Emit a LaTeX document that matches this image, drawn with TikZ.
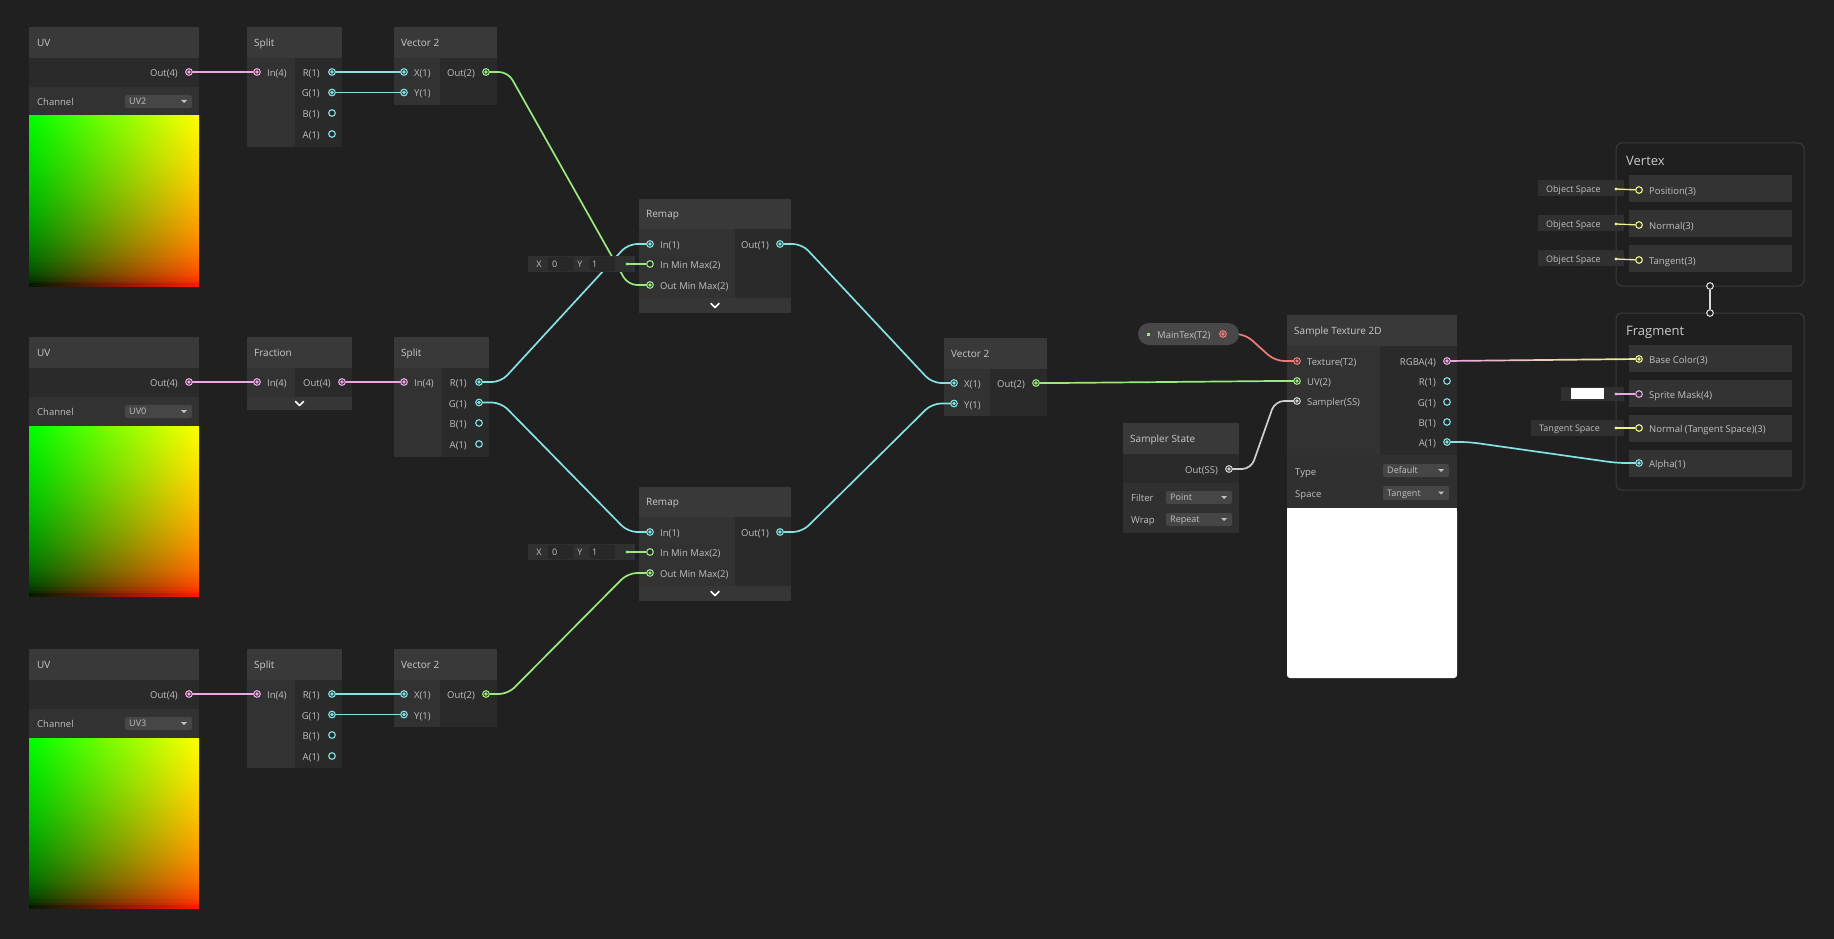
\documentclass[tikz,border=0pt]{standalone}
\usepackage{fontspec}
\setmainfont{Open Sans}
\usetikzlibrary{calc}
\definecolor{bgc}{HTML}{202020}
\definecolor{ttlc}{HTML}{393939}
\definecolor{inc}{HTML}{323232}
\definecolor{outc}{HTML}{2A2A2A}
\definecolor{barc}{HTML}{363636}
\definecolor{ddc}{HTML}{464646}
\definecolor{txtc}{HTML}{C0C0C0}
\definecolor{ttxc}{HTML}{CACACA}
\definecolor{pinkc}{HTML}{EBA6E3}
\definecolor{cyanc}{HTML}{84E1E4}
\definecolor{greenc}{HTML}{9AEA7E}
\definecolor{yellowc}{HTML}{EEF28C}
\definecolor{redc}{HTML}{F07A7A}
\definecolor{greyc}{HTML}{CFCFCF}
\definecolor{fieldc}{HTML}{303030}
\definecolor{fieldin}{HTML}{282828}
\definecolor{pillc}{HTML}{484848}
\definecolor{rowc}{HTML}{333333}
\definecolor{ctxc}{HTML}{1F1F1F}
\definecolor{ctxb}{HTML}{3A3A3A}
\pgfdeclarelayer{bodies}
\pgfdeclarelayer{edges}
\pgfsetlayers{bodies,edges,main}
\tikzset{
  lbl/.style={font=\fontsize{9.5}{11}\selectfont, text=txtc, inner sep=0pt, text height=7pt, text depth=0pt},
  small/.style={font=\fontsize{9}{10}\selectfont, text=txtc, inner sep=0pt, text height=6.6pt, text depth=0pt},
  ttl/.style={font=\fontsize{10}{12}\selectfont, text=ttxc, inner sep=0pt, text height=7.3pt, text depth=0pt, anchor=west},
  bigttl/.style={font=\fontsize{13}{15}\selectfont, text=ttxc, inner sep=0pt, text height=9.4pt, text depth=0pt, anchor=west},
  port/.style={circle, inner sep=0pt, minimum size=6.6pt, line width=1.1pt, fill=outc},
  edge/.style={line width=1.7pt, rounded corners=9pt},
  chev/.style={draw=white, line width=1.6pt, line cap=round, line join=round},
  ddarrow/.style={fill=txtc},
}
\newcommand\sgcport[3]{\node[port,draw=#3] (#1) at (#2) {};\fill[#3] (#1.center) circle (1.8);}
\newcommand\sgoport[3]{\node[port,draw=#3] (#1) at (#2) {};}
\newcommand\sgedge[3]{\draw[edge,#1] (#2.center) -- ++(22,0) -- ($(#3.center)+(-22,0)$) -- (#3.center);}
\newcommand\sgchev[2]{\draw[chev] ({#1-4},{#2-2}) -- (#1,{#2+2}) -- ({#1+4},{#2-2});}
\newcommand\sgdd[6]{% name, x1, y1, x2, y2, text
  \fill[ddc, rounded corners=2pt] (#2,#3) rectangle (#4,#5);
  \node[small, anchor=west] (#1) at ({#2+4},{(#3+#5)/2}) {#6};
  \fill[ddarrow] ({#4-11},{(#3+#5)/2-1.5}) -- ({#4-5},{(#3+#5)/2-1.5}) -- ({#4-8},{(#3+#5)/2+1.5}) -- cycle;}
% UV node: prefix, top, channel
\newcommand\sguv[3]{%
  \begin{pgfonlayer}{bodies}
  \fill[ttlc] (29,#2) rectangle (199,{#2+31});
  \fill[outc] (29,{#2+31}) rectangle (199,{#2+60});
  \fill[inc] (29,{#2+60}) rectangle (199,{#2+89});
  \foreach \k in {0,...,67} {
    \pgfmathsetmacro\gg{(1-(\k+0.5)/68)^0.4545}
    \definecolor{gL}{rgb}{0,\gg,0}
    \definecolor{gM}{rgb}{0.735,\gg,0}
    \definecolor{gR}{rgb}{1,\gg,0}
    \fill[left color=gL, middle color=gM, right color=gR] (29,{#2+89+\k*2.5}) rectangle (199,{#2+89+\k*2.5+2.8});
  }
  \end{pgfonlayer}
  \node[ttl] (#1t) at (37,{#2+15.5}) {UV};
  \node[lbl, anchor=east] (#1ol) at (178,{#2+46}) {Out(4)};
  \node[lbl, anchor=west] (#1cl) at (37,{#2+75}) {Channel};
  \sgdd{#1dd}{125}{#2+68}{192}{#2+81}{#3}
  \sgcport{#1o}{189,{#2+45}}{pinkc}
}
% Split node: prefix, x, top, bottom offset
\newcommand\sgsplit[4]{%
  \begin{pgfonlayer}{bodies}
  \fill[ttlc] (#2,#3) rectangle ({#2+95},{#3+31});
  \fill[inc] (#2,{#3+31}) rectangle ({#2+48},{#3+#4});
  \fill[outc] ({#2+48},{#3+31}) rectangle ({#2+95},{#3+#4});
  \end{pgfonlayer}
  \node[ttl] (#1t) at ({#2+7},{#3+15.5}) {Split};
  \sgcport{#1i}{{#2+10},{#3+45}}{pinkc}
  \node[lbl, anchor=west] (#1il) at ({#2+20},{#3+46}) {In(4)};
  \sgcport{#1r}{{#2+85},{#3+45}}{cyanc}
  \sgcport{#1g}{{#2+85},{#3+65.5}}{cyanc}
  \sgoport{#1b}{{#2+85},{#3+86}}{cyanc}
  \sgoport{#1a}{{#2+85},{#3+107}}{cyanc}
  \node[lbl, anchor=east] (#1rl) at ({#2+73},{#3+46}) {R(1)};
  \node[lbl, anchor=east] (#1gl) at ({#2+73},{#3+66.5}) {G(1)};
  \node[lbl, anchor=east] (#1bl) at ({#2+73},{#3+87}) {B(1)};
  \node[lbl, anchor=east] (#1al) at ({#2+73},{#3+108}) {A(1)};
}
% Vector 2 node: prefix, x, top
\newcommand\sgvec[3]{%
  \begin{pgfonlayer}{bodies}
  \fill[ttlc] (#2,#3) rectangle ({#2+102.5},{#3+31});
  \fill[inc] (#2,{#3+31}) rectangle ({#2+45.5},{#3+78});
  \fill[outc] ({#2+45.5},{#3+31}) rectangle ({#2+102.5},{#3+78});
  \end{pgfonlayer}
  \node[ttl] (#1t) at ({#2+7},{#3+15.5}) {Vector 2};
  \sgcport{#1x}{{#2+10},{#3+45}}{cyanc}
  \sgcport{#1y}{{#2+10},{#3+65.5}}{cyanc}
  \sgcport{#1o}{{#2+92},{#3+45}}{greenc}
  \node[lbl, anchor=west] (#1xl) at ({#2+20},{#3+46}) {X(1)};
  \node[lbl, anchor=west] (#1yl) at ({#2+20},{#3+66.5}) {Y(1)};
  \node[lbl, anchor=east] (#1ol) at ({#2+81},{#3+46}) {Out(2)};
}
% Remap node: prefix, top
\newcommand\sgremap[2]{%
  \begin{pgfonlayer}{bodies}
  \fill[ttlc] (639,#2) rectangle (791,{#2+30});
  \fill[inc] (639,{#2+30}) rectangle (735,{#2+99});
  \fill[outc] (735,{#2+30}) rectangle (791,{#2+99});
  \fill[barc] (639,{#2+99}) rectangle (791,{#2+114});
  \end{pgfonlayer}
  \sgchev{715}{#2+106.5}
  \node[ttl] (#1t) at (646,{#2+15}) {Remap};
  \sgcport{#1in}{650,{#2+45}}{cyanc}
  \sgoport{#1mm}{650,{#2+65}}{greenc}
  \sgcport{#1om}{650,{#2+86}}{greenc}
  \sgcport{#1o}{780,{#2+45}}{cyanc}
  \node[lbl, anchor=west] (#1inl) at (660,{#2+46}) {In(1)};
  \node[lbl, anchor=west] (#1mml) at (660,{#2+66}) {In Min Max(2)};
  \node[lbl, anchor=west] (#1oml) at (660,{#2+87}) {Out Min Max(2)};
  \node[lbl, anchor=east] (#1ol) at (769,{#2+46}) {Out(1)};
  \fill[fieldc] (528,{#2+57}) rectangle (635,{#2+73});
  \fill[fieldin] (548,{#2+58}) rectangle (573,{#2+72});
  \fill[fieldin] (589,{#2+58}) rectangle (615,{#2+72});
  \node[small] (#1fx) at (539,{#2+65.5}) {X};
  \node[small, anchor=west] (#1f0) at (552,{#2+65.5}) {0};
  \node[small] (#1fy) at (580,{#2+65.5}) {Y};
  \node[small, anchor=west] (#1f1) at (592,{#2+65.5}) {1};
  \coordinate (#1d) at (627,{#2+65});
  \fill[greenc] (#1d) circle (1.7);
  \draw[greenc, line width=1.4pt] (#1d) -- (#1mm);
}
\begin{document}
\begin{tikzpicture}[x=1pt,y=-1pt]
\begin{pgfonlayer}{bodies}
\fill[bgc] (0,0) rectangle (1834,939);
\end{pgfonlayer}
\useasboundingbox (0,0) rectangle (1834,939);

% ---------- left column ----------
\sguv{uva}{27}{UV2}
\sguv{uvb}{337}{UV0}
\sguv{uvc}{649}{UV3}

\sgsplit{spa}{247}{27}{120}
\sgsplit{spb}{394}{337}{120}
\sgsplit{spc}{247}{649}{119}

\sgvec{va}{394}{27}
\sgvec{vc}{394}{649}
\sgvec{vm}{944}{338}

% Fraction
\begin{pgfonlayer}{bodies}
\fill[ttlc] (247,337) rectangle (352,368);
\fill[inc] (247,368) rectangle (295,397);
\fill[outc] (295,368) rectangle (352,397);
\fill[barc] (247,397) rectangle (352,410);
\end{pgfonlayer}
\node[ttl] (frt) at (254,352.5) {Fraction};
\sgcport{fri}{257,382}{pinkc}
\sgcport{fro}{342,382}{pinkc}
\node[lbl, anchor=west] (fril) at (267,383) {In(4)};
\node[lbl, anchor=east] (frol) at (331,383) {Out(4)};
\sgchev{299.5}{403.5}

% Remaps
\sgremap{ra}{199}
\sgremap{rb}{487}

% ---------- MainTex property ----------
\fill[pillc, rounded corners=11pt] (1138,323) rectangle (1239,345);
\fill[greenc] (1146.5,332.5) rectangle (1149.5,335.5);
\node[lbl, anchor=west] (mtl) at (1157,335) {MainTex(T2)};
\node[port, draw=redc, fill=pillc] (mt) at (1223,334) {};
\fill[redc] (mt.center) circle (1.8);

% ---------- Sampler State ----------
\begin{pgfonlayer}{bodies}
\fill[ttlc] (1123,423) rectangle (1239,454);
\fill[outc] (1123,454) rectangle (1239,483);
\fill[fieldc] (1123,483) rectangle (1239,533);
\end{pgfonlayer}
\node[ttl] (sst) at (1130,438.5) {Sampler State};
\node[lbl, anchor=east] (ssol) at (1218,470) {Out(SS)};
\sgcport{sso}{1229,469}{greyc}
\node[lbl, anchor=west] (ssfl) at (1131,497.5) {Filter};
\node[lbl, anchor=west] (sswl) at (1131,519.5) {Wrap};
\sgdd{ssfd}{1166}{491}{1232}{504}{Point}
\sgdd{sswd}{1166}{513}{1232}{526}{Repeat}

% ---------- Sample Texture 2D ----------
\begin{pgfonlayer}{bodies}
\fill[ttlc] (1287,315) rectangle (1457,346);
\fill[inc] (1287,346) rectangle (1380,455);
\fill[outc] (1380,346) rectangle (1457,455);
\fill[fieldc] (1287,455) rectangle (1457,508);
\fill[white, rounded corners=3pt] (1287,508) rectangle (1457,678);
\fill[white] (1287,508) rectangle (1457,520);
\end{pgfonlayer}
\node[ttl] (stt) at (1294,330.5) {Sample Texture 2D};
\sgcport{sttx}{1297,361}{redc}
\sgcport{stuv}{1297,381}{greenc}
\sgcport{stss}{1297,401}{greyc}
\node[lbl, anchor=west] (sttxl) at (1307,362) {Texture(T2)};
\node[lbl, anchor=west] (stuvl) at (1307,382) {UV(2)};
\node[lbl, anchor=west] (stssl) at (1307,402) {Sampler(SS)};
\sgcport{strgba}{1447,361}{pinkc}
\sgoport{str}{1447,381}{cyanc}
\sgoport{stg}{1447,402}{cyanc}
\sgoport{stb}{1447,422}{cyanc}
\sgcport{sta}{1447,442}{cyanc}
\node[lbl, anchor=east] (strgbal) at (1436,362) {RGBA(4)};
\node[lbl, anchor=east] (strl) at (1436,382) {R(1)};
\node[lbl, anchor=east] (stgl) at (1436,403) {G(1)};
\node[lbl, anchor=east] (stbl) at (1436,423) {B(1)};
\node[lbl, anchor=east] (stal) at (1436,443) {A(1)};
\node[lbl, anchor=west] (sttyl) at (1295,471.5) {Type};
\node[lbl, anchor=west] (stspl) at (1295,493.5) {Space};
\sgdd{sttyd}{1383}{464}{1449}{477}{Default}
\sgdd{stspd}{1383}{486}{1449}{500}{Tangent}

% ---------- Vertex / Fragment ----------
\begin{pgfonlayer}{bodies}
\draw[ctxb, fill=ctxc, rounded corners=6pt, line width=1pt] (1616,143) rectangle (1804,286);
\draw[ctxb, fill=ctxc, rounded corners=6pt, line width=1pt] (1616,313) rectangle (1804,490);
\foreach \ya in {175,210,245,345,380,415,450} {
  \fill[rowc] (1629,\ya) rectangle (1792,{\ya+27});
}
\end{pgfonlayer}
\node[bigttl] (vxt) at (1626,161) {Vertex};
\node[bigttl] (fgt) at (1626,331) {Fragment};

\node[port, draw=yellowc, fill=rowc] (vpos) at (1639,190) {};
\node[port, draw=yellowc, fill=rowc] (vnor) at (1639,225) {};
\node[port, draw=yellowc, fill=rowc] (vtan) at (1639,260) {};
\node[lbl, anchor=west] (vposl) at (1649,191) {Position(3)};
\node[lbl, anchor=west] (vnorl) at (1649,226) {Normal(3)};
\node[lbl, anchor=west] (vtanl) at (1649,261) {Tangent(3)};

\node[port, draw=yellowc, fill=rowc] (fbc) at (1639,359) {};
\fill[yellowc] (fbc.center) circle (1.8);
\node[port, draw=pinkc, fill=rowc] (fsm) at (1639,394) {};
\node[port, draw=yellowc, fill=rowc] (fnt) at (1639,428) {};
\node[port, draw=cyanc, fill=rowc] (fal) at (1639,463) {};
\fill[cyanc] (fal.center) circle (1.8);
\node[lbl, anchor=west] (fbcl) at (1649,360) {Base Color(3)};
\node[lbl, anchor=west] (fsml) at (1649,395) {Sprite Mask(4)};
\node[lbl, anchor=west] (fntl) at (1649,429) {Normal (Tangent Space)(3)};
\node[lbl, anchor=west] (fall) at (1649,464) {Alpha(1)};

% inline defaults
\foreach \nm/\yy in {vpos/189,vnor/224,vtan/259} {
  \fill[fieldc] (1538,{\yy-9}) rectangle (1624,{\yy+7});
  \node[small, anchor=west] (\nm f) at (1546,\yy) {Object Space};
  \coordinate (\nm d) at (1616,\yy);
  \fill[yellowc] (\nm d) circle (1.6);
  \draw[yellowc, line width=1.3pt] (\nm d) -- (\nm);
}
\fill[fieldc] (1561,387) rectangle (1624,401);
\fill[white] (1571,388) rectangle (1604,399);
\coordinate (fsmd) at (1616,394);
\fill[pinkc] (fsmd) circle (1.6);
\draw[pinkc, line width=1.3pt] (fsmd) -- (fsm);
\fill[fieldc] (1531,420) rectangle (1624,436);
\node[small, anchor=west] (fntf) at (1539,428) {Tangent Space};
\coordinate (fntd) at (1616,428);
\fill[yellowc] (fntd) circle (1.6);
\draw[yellowc, line width=1.3pt] (fntd) -- (fnt);

\node[port, draw=greyc!80, fill=bgc] (vxc) at (1710,286) {};
\node[port, draw=greyc!80, fill=bgc] (fgc) at (1710,313) {};
\draw[greyc!80, line width=1.3pt] (vxc) -- (fgc);

% ---------- edges ----------
\begin{pgfonlayer}{edges}
\sgedge{pinkc}{uvao}{spai}
\sgedge{cyanc}{spar}{vax}
\sgedge{cyanc}{spag}{vay}
\sgedge{pinkc}{uvbo}{fri}
\sgedge{pinkc}{fro}{spbi}
\sgedge{pinkc}{uvco}{spci}
\sgedge{cyanc}{spcr}{vcx}
\sgedge{cyanc}{spcg}{vcy}
\sgedge{greenc}{vao}{raom}
\sgedge{cyanc}{spbr}{rain}
\sgedge{cyanc}{spbg}{rbin}
\sgedge{greenc}{vco}{rbom}
\sgedge{cyanc}{rao}{vmx}
\sgedge{cyanc}{rbo}{vmy}
\sgedge{greenc}{vmo}{stuv}
\sgedge{redc}{mt}{sttx}
\sgedge{greyc}{sso}{stss}
\sgedge{cyanc}{sta}{fal}
\foreach \i in {0,...,23} {
  \pgfmathsetmacro\ta{\i/24}
  \pgfmathsetmacro\tb{(\i+1)/24}
  \pgfmathtruncatemacro\pa{100-\i*100/23}
  \draw[line width=1.7pt, color=pinkc!\pa!yellowc] ($(strgba.center)!\ta!(fbc.center)$) -- ($(strgba.center)!\tb!(fbc.center)$);
}
\end{pgfonlayer}
\end{tikzpicture}
\end{document}
